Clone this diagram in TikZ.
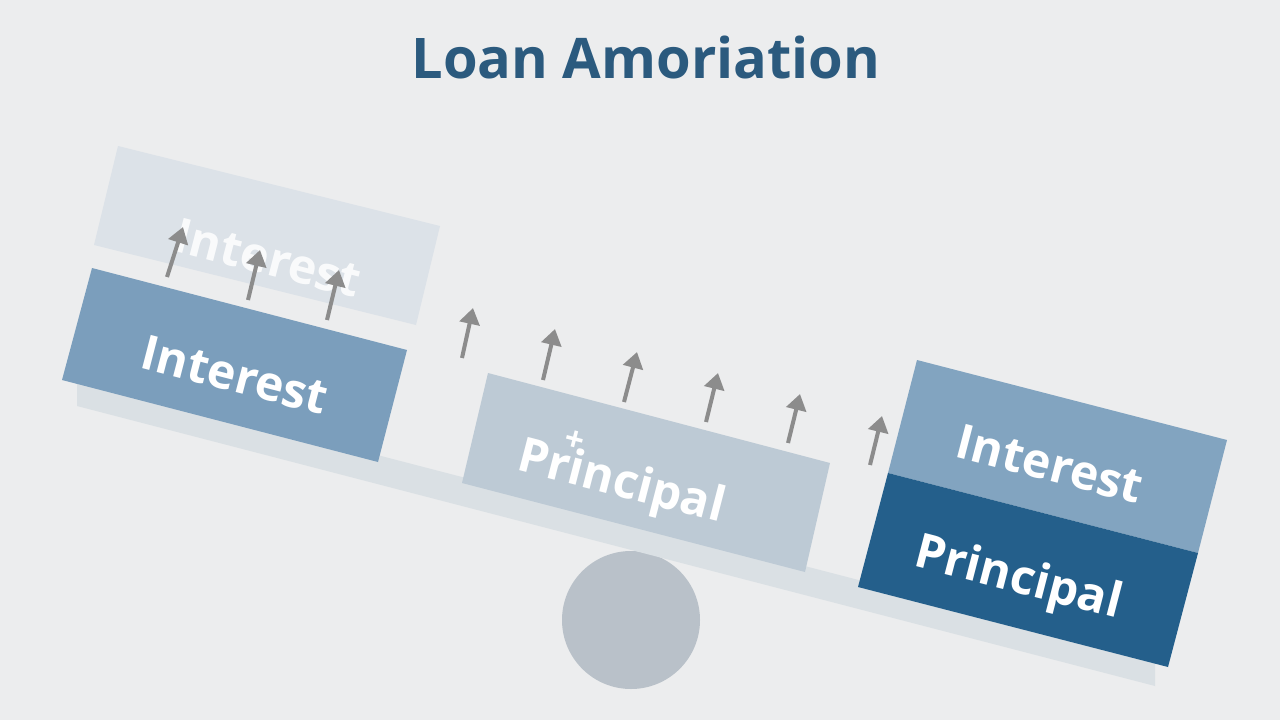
\documentclass[tikz,border=0pt]{standalone}
\usepackage{fontspec}
\setmainfont{Open Sans}
\usetikzlibrary{arrows.meta}
\definecolor{bgc}{HTML}{ECEDEE}
\definecolor{titlec}{HTML}{2B5A7E}
\definecolor{ghostc}{HTML}{DCE2E8}
\definecolor{midblue}{HTML}{7B9EBC}
\definecolor{ltblue}{HTML}{82A4C0}
\definecolor{dkblue}{HTML}{245F8B}
\definecolor{paleblue}{HTML}{BDCAD5}
\definecolor{plankc}{HTML}{DAE0E4}
\definecolor{fulcc}{HTML}{B9C1C9}
\definecolor{arrc}{HTML}{8C8C8C}
\tikzset{
  boxlabel/.style={text=white, font=\bfseries\fontsize{48}{56}\selectfont, rotate=-14.5, inner sep=0pt},
  upar/.style={draw=arrc, line width=4pt, -{Triangle[width=20pt,length=16pt]}},
}
\begin{document}
\begin{tikzpicture}[x=1pt,y=-1pt]
\fill[bgc] (0,0) rectangle (1280,720);
\useasboundingbox (0,0) rectangle (1280,720);
% title
\node[text=titlec, font=\bfseries\fontsize{56}{64}\selectfont, inner sep=0pt] (title) at (646,57) {Loan Amoriation};
% fulcrum
\fill[fulcc] (631,620) circle[radius=69];
% plank
\fill[plankc] (77,377) -- (1155,657) -- (1155,686) -- (77,406) -- cycle;
% ghost box
\fill[ghostc] (118,146) -- (440,226) -- (416,325) -- (94,245) -- cycle;
\node[boxlabel, text opacity=0.85] (ghost) at (268,258) {Interest};
% left arrows
\coordinate (la1t) at (167,277); \coordinate (la1h) at (183,227);
\coordinate (la2t) at (248,300); \coordinate (la2h) at (260,250);
\coordinate (la3t) at (327,320); \coordinate (la3h) at (339,270);
\draw[upar] (la1t) -- (la1h);
\draw[upar] (la2t) -- (la2h);
\draw[upar] (la3t) -- (la3h);
% left interest box
\fill[midblue] (92,268) -- (407,350) -- (378,462) -- (62,380) -- cycle;
\node[boxlabel] (lint) at (235,375) {Interest};
% middle box
\fill[paleblue] (488,373) -- (830,463) -- (805,572) -- (462,483) -- cycle;
\node[boxlabel] (mprin) at (621,484) {Principal};
\node[text=white, font=\bfseries\fontsize{34}{38}\selectfont, rotate=-14.5, inner sep=0pt] (plus) at (574,441) {+};
% middle arrows
\coordinate (ma1t) at (462,358); \coordinate (ma1h) at (473,308);
\coordinate (ma2t) at (543,380); \coordinate (ma2h) at (555,329);
\coordinate (ma3t) at (624,402); \coordinate (ma3h) at (637,352);
\coordinate (ma4t) at (706,422); \coordinate (ma4h) at (718,373);
\coordinate (ma5t) at (788,443); \coordinate (ma5h) at (800,394);
\coordinate (ma6t) at (870,465); \coordinate (ma6h) at (882,416);
\foreach \i in {1,...,6} {\draw[upar] (ma\i t) -- (ma\i h);}
% right box
\fill[ltblue] (917,360) -- (1227,440) -- (1198,553) -- (888,473) -- cycle;
\fill[dkblue] (888,473) -- (1198,553) -- (1168,667) -- (858,587) -- cycle;
\node[boxlabel] (rint) at (1050,464) {Interest};
\node[boxlabel] (rprin) at (1018,580) {Principal};
\end{tikzpicture}
\end{document}
